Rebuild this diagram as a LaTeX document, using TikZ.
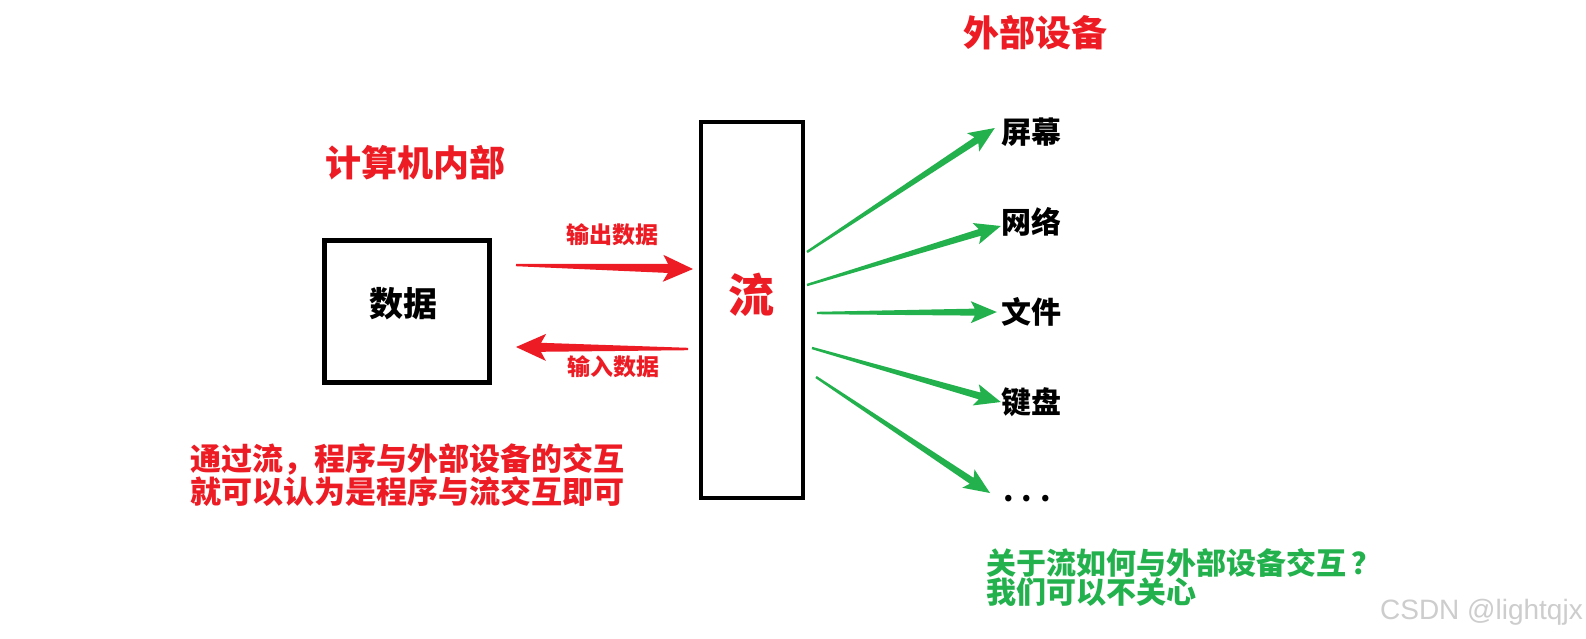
\documentclass[tikz,border=0pt]{standalone}
\usepackage{fontspec}
\setmainfont{Noto Sans CJK SC}
\newfontfamily\wmfont{Liberation Sans}
\usetikzlibrary{calc,positioning}
\definecolor{flowred}{HTML}{ED1C24}
\definecolor{flowgreen}{HTML}{22B14C}
\definecolor{wmgray}{HTML}{CDCDCD}

\begin{document}
\begin{tikzpicture}[x=1pt,y=-1pt,node distance=90pt]
\tikzstyle{box}=[draw=black,line width=4.7pt,inner sep=0pt]
\tikzstyle{tag}=[inner sep=0pt,font=\bfseries\fontsize{30}{30}\selectfont]
\tikzset{redtxt/.style={inner sep=0pt,text=flowred,font=\bfseries\fontsize{#1}{30}\selectfont},
	greentxt/.style={inner sep=0pt,text=flowgreen,font=\bfseries\fontsize{#1}{29}\selectfont},
	taper/.style n args={4}{to path={
		($(\tikztostart)!1.2pt!90:(\tikztotarget)$)
		-- ($(\tikztotarget)!#4!(\tikztostart)!#1!90:(\tikztotarget)$)
		-- ($(\tikztotarget)!#3!(\tikztostart)!#2!90:(\tikztotarget)$)
		-- (\tikztotarget)
		-- ($(\tikztotarget)!#3!(\tikztostart)!#2!-90:(\tikztotarget)$)
		-- ($(\tikztotarget)!#4!(\tikztostart)!#1!-90:(\tikztotarget)$)
		-- ($(\tikztostart)!1.2pt!-90:(\tikztotarget)$) -- cycle}}}

\useasboundingbox (0,0) rectangle (1586,638);
\fill[white] (0,0) rectangle (1586,638);

	\node[redtxt=36] (inside) at (415,163) {计算机内部};
	\node[redtxt=36] (outside) at (1035,33) {外部设备};

	\node[box,line width=5pt,minimum width=165pt,minimum height=142pt] (data) at (407,311.5) {};
	\node[tag,font=\bfseries\fontsize{34}{34}\selectfont] (datatxt) at (403,304) {数据};
	\node[box,minimum width=102pt,minimum height=376pt] (flow) at (752,310) {};
	\node[redtxt=46] (flowtxt) at (751,295) {流};

	\node[redtxt=23] (outlbl) at (612,235) {输出数据};
	\node[redtxt=23] (inlbl) at (613,367) {输入数据};

	\node[tag] (screen) at (1031,132) {屏幕};
	\node[tag,below of=screen] (net) {网络};
	\node[tag,below of=net] (file) {文件};
	\node[tag,below of=file] (keys) {键盘};
	\node[tag,anchor=base west] (more) at (1003,501) {.\hspace{8pt}.\hspace{8pt}.};

	\node[redtxt=31,anchor=west,align=left] (note) at (190,475) {通过流，程序与外部设备的交互\\就可以认为是程序与流交互即可};
	\node[greentxt=30,anchor=west,align=left] (ask) at (986,577) {关于流如何与外部设备交互\hspace{5pt}？\\我们可以不关心};
	\node[inner sep=0pt,anchor=east,text=wmgray,font=\wmfont\fontsize{28}{28}\selectfont] (mark) at (1583,612) {CSDN @lightqjx};

% arrow ends
	\coordinate (out0) at (516,265);
	\coordinate (out1) at (693,269);
	\coordinate (in0) at (688,349);
	\coordinate (in1) at (516,347);
	\coordinate (t1) at (807,252);
	\coordinate (t2) at (807,285);
	\coordinate (t3) at (817,313);
	\coordinate (t4) at (812,348);
	\coordinate (t5) at (816,377);
	\coordinate (h1) at ([xshift=-6pt,yshift=4pt]screen.west);
	\coordinate (h2) at ([yshift=-4pt]net.west);
	\coordinate (h3) at ([xshift=-4pt]file.west);
	\coordinate (h4) at (keys.west);
	\coordinate (h5) at ([xshift=-13pt,yshift=8pt]more.base west);

	\fill[flowred,taper={4.5pt}{13.5pt}{30pt}{25pt}] (out0) to (out1);
	\fill[flowred,taper={4.5pt}{13.5pt}{30pt}{25pt}] (in0) to (in1);

	\fill[flowgreen,taper={3.5pt}{11pt}{26pt}{22pt}] (t1) to (h1);
	\fill[flowgreen,taper={3.5pt}{11pt}{26pt}{22pt}] (t2) to (h2);
	\fill[flowgreen,taper={3.5pt}{11pt}{26pt}{22pt}] (t3) to (h3);
	\fill[flowgreen,taper={3.5pt}{11pt}{26pt}{22pt}] (t4) to (h4);
	\fill[flowgreen,taper={3.5pt}{11pt}{26pt}{22pt}] (t5) to (h5);

\end{tikzpicture}
\end{document}
